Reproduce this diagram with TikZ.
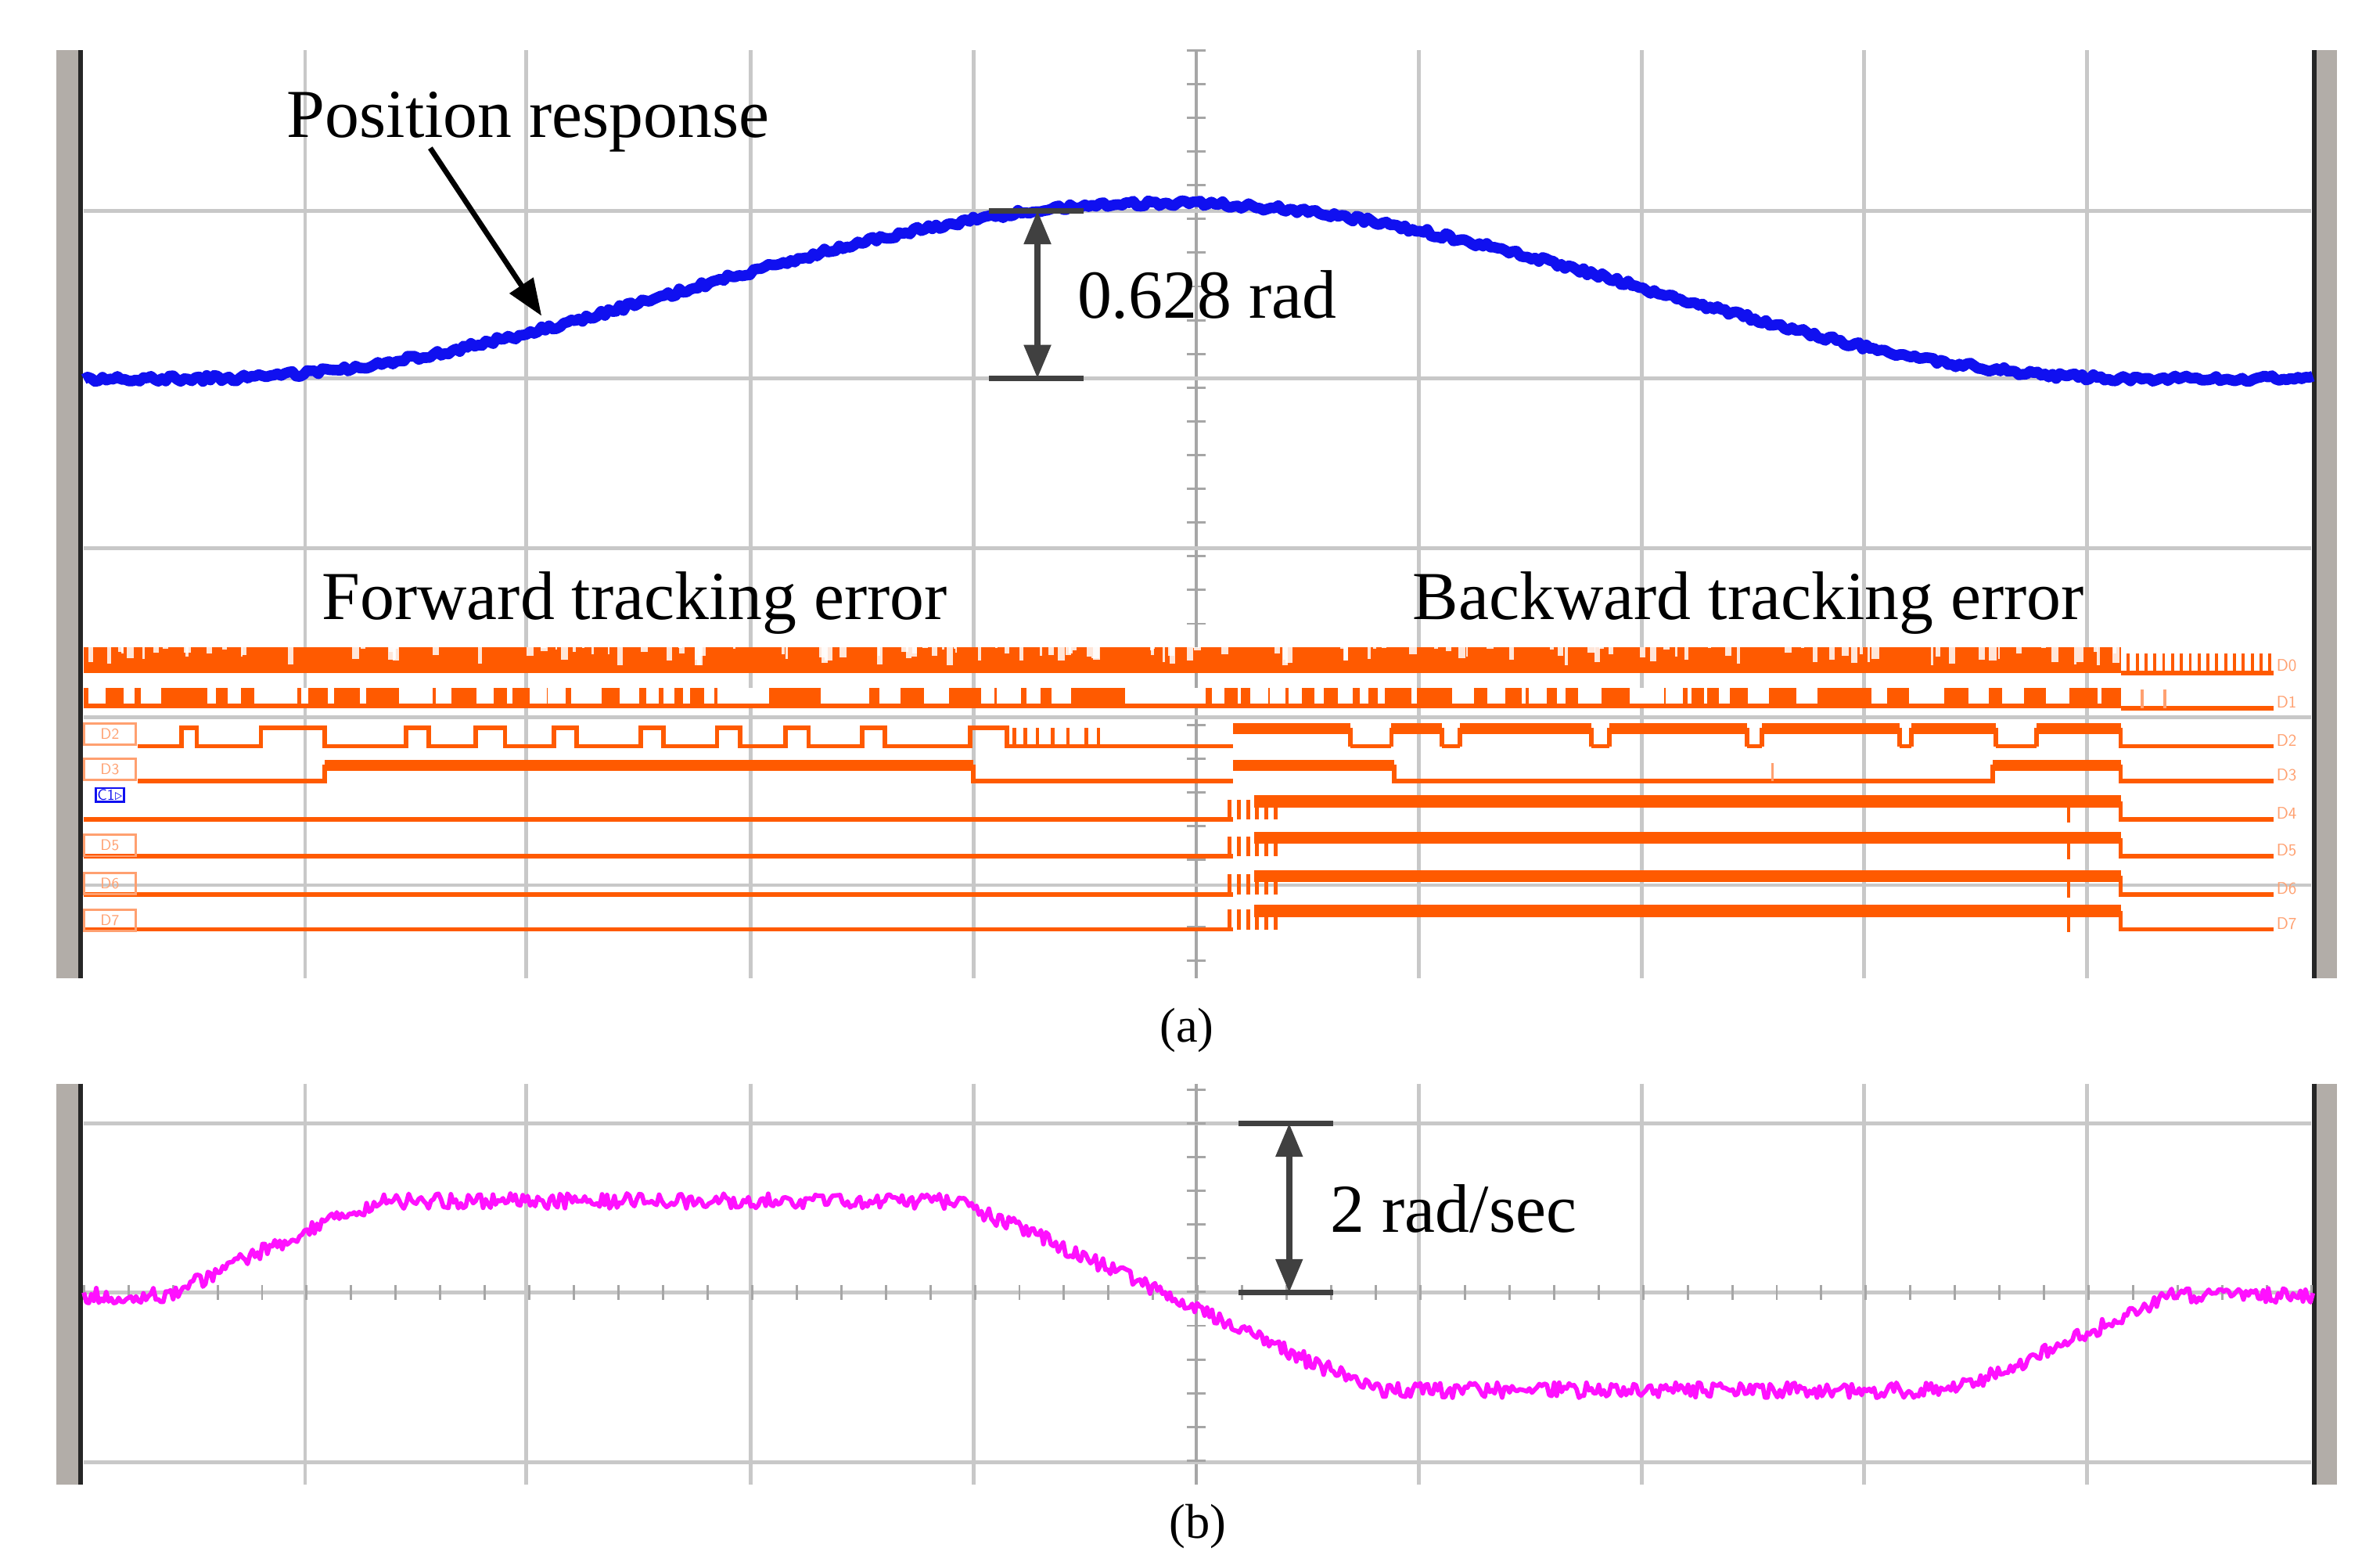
\documentclass[tikz,border=0pt]{standalone}
\usepackage{fontspec}
\setmainfont{Liberation Serif}
\usetikzlibrary{arrows.meta}
\definecolor{grd}{HTML}{C8C8C8}
\definecolor{bar}{HTML}{B2ADA8}
\definecolor{org}{HTML}{FF5A00}
\definecolor{lorg}{HTML}{FFA070}
\definecolor{blu}{HTML}{1010F0}
\definecolor{mag}{HTML}{FF10FF}
\definecolor{dim}{HTML}{404040}
\tikzset{
  gridline/.style={grd,line width=2.5pt},
  sidebar/.style={fill=bar,draw=none},
  edge/.style={black!85,line width=3pt},
  lbl/.style={font=\fontsize{45}{52}\selectfont,inner sep=0pt},
  dimarrow/.style={dim,line width=4pt,{Triangle[length=22pt,width=17pt]}-{Triangle[length=22pt,width=17pt]}},
  dimbar/.style={dim,line width=3.5pt},
  sig/.style={org,line width=3pt},
  chlbl/.style={lorg,font=\sffamily\fontsize{11}{12}\selectfont,inner sep=1pt},
  lbox/.style={draw=lorg,line width=1.5pt,minimum width=34pt,minimum height=14pt,inner sep=0pt,font=\sffamily\fontsize{10}{10}\selectfont,text=lorg}
}
\begin{document}
\begin{tikzpicture}[x=1pt,y=-1pt]
\useasboundingbox (0,0) rectangle (1560,1026);
\fill[white] (0,0) rectangle (1560,1026);
\pgfmathsetseed{7}
% ---------- panel frames ----------
\foreach \ya/\yb in {33/641,710/973}{
  \fill[sidebar] (37,\ya) rectangle (52,\yb);
  \fill[sidebar] (1518,\ya) rectangle (1532,\yb);
  \draw[edge] (53,\ya) -- (53,\yb);
  \draw[edge] (1517,\ya) -- (1517,\yb);
  \foreach \gx in {200,345,492,638,930,1076,1222,1368}
    \draw[gridline] (\gx,\ya) -- (\gx,\yb);
  \draw[gray!70,line width=2pt] (784,\ya) -- (784,\yb);
}
\foreach \gy in {138,248,359,470,580}
  \draw[gridline] (55,\gy) -- (1515,\gy);
\foreach \gy in {736,847,958}
  \draw[gridline] (55,\gy) -- (1515,\gy);
\foreach \t in {0,...,27} \draw[gray!70,line width=1.5pt] (778,{33+\t*22.1}) -- (790,{33+\t*22.1});
\foreach \t in {0,...,11} \draw[gray!70,line width=1.5pt] (778,{714+\t*22.1}) -- (790,{714+\t*22.1});
\foreach \t in {0,...,50} \draw[gray!70,line width=1.5pt] ({55+\t*29.2},842) -- ({55+\t*29.2},852);
% ---------- blue position curve ----------
\draw[blu,line width=7pt,line join=round]
  plot[domain=55:1516,samples=600] (\x,{248-((\x<130||\x>1400)?0:57.5*(1-cos((\x-130)*0.283465)))+2*rand});
\node[lbl,anchor=west] (pr) at (188,80) {Position response};
\coordinate (prtip) at (355,207);
\draw[black,line width=3.5pt,-{Triangle[length=24pt,width=18pt]}] (282,97) -- (prtip);
% dimension a
\coordinate (a1) at (680,138); \coordinate (a2) at (680,248);
\draw[dimbar] (648,138) -- (710,138);
\draw[dimbar] (648,248) -- (710,248);
\draw[dimarrow] (a1) -- (a2);
\node[lbl,anchor=west] (rad) at (706,193) {0.628 rad};
\node[lbl] (fte) at (416,395) {Forward tracking error};
\node[lbl] (bte) at (1146,395) {Backward tracking error};
% ---------- digital channels ----------
% D0
\fill[org] (55,424) rectangle (1390,441);
\foreach \i in {1,...,140}{
  \pgfmathsetmacro\xx{55+rnd*1335}
  \pgfmathsetmacro\ww{1+rnd*4}
  \fill[white,opacity=0.85] (\xx,424) rectangle ({\xx+\ww},{424+rnd*12});
}
\draw[sig] (1390,441) -- (1490,441);
\foreach \i in {0,...,16}{
  \pgfmathsetmacro\xx{1395+\i*5.8}
  \draw[org,line width=2pt] (\xx,441) -- (\xx,428);
}
% D1
\fill[org] (55,451) rectangle (1390,464);
\foreach \i in {1,...,110}{
  \pgfmathsetmacro\xx{55+rnd*1335}
  \pgfmathsetmacro\ww{2+rnd*12}
  \fill[white] (\xx,451) rectangle ({\xx+\ww},461);
}
\fill[white] (170,451) rectangle (195,461);
\fill[white] (470,451) rectangle (485,461);
\fill[white] (745,451) rectangle (790,461);
\draw[sig] (1390,464) -- (1490,464);
\draw[lorg,line width=2pt] (1404,464) -- (1404,452) (1419,464) -- (1419,452);
% D2
\draw[sig] (90,489) -- (119,489) -- (119,477) -- (129,477) -- (129,489) -- (171,489) -- (171,477) -- (213,477) -- (213,489)
  -- (266,489) -- (266,477) -- (281,477) -- (281,489)
  -- (312,489) -- (312,477) -- (331,477) -- (331,489)
  -- (363,489) -- (363,477) -- (378,477) -- (378,489)
  -- (420,489) -- (420,477) -- (435,477) -- (435,489)
  -- (470,489) -- (470,477) -- (485,477) -- (485,489)
  -- (515,489) -- (515,477) -- (530,477) -- (530,489)
  -- (565,489) -- (565,477) -- (580,477) -- (580,489)
  -- (636,489) -- (636,477) -- (660,477) -- (660,489) -- (808,489);
\foreach \xx in {665,672,680,690,700,712,720}\draw[org,line width=2.5pt] (\xx,489) -- (\xx,477);
\fill[org] (808,474) rectangle (1390,481);
\foreach \a/\b in {885/912,945/957,1043/1055,1145/1155,1245/1253,1308/1335}
  {\fill[white] (\a,474) rectangle (\b,481); \draw[sig] (\a,489) -- (\b,489) (\a,489)--(\a,477) (\b,489)--(\b,477);}
\draw[sig] (1390,477) -- (1390,489) -- (1490,489);
% D3
\draw[sig] (90,512) -- (213,512) -- (213,501);
\fill[org] (213,498) rectangle (638,505);
\draw[sig] (638,501) -- (638,512) -- (808,512);
\fill[org] (808,498) rectangle (914,505);
\draw[sig] (914,501) -- (914,512) -- (1306,512) -- (1306,501);
\fill[org] (1306,498) rectangle (1390,505);
\draw[sig] (1390,501) -- (1390,512) -- (1490,512);
\draw[lorg,line width=1.5pt] (1162,512) -- (1162,500);
% D4-D7
\foreach \yb in {537,561,586,609}{
  \draw[sig] (55,\yb) -- (808,\yb);
  \foreach \xx in {806,812,818,824,830,836}\draw[org,line width=2.5pt] (\xx,\yb) -- (\xx,{\yb-13});
  \fill[org] (822,{\yb-16}) rectangle (1390,{\yb-8});
  \draw[sig] (1390,{\yb-12}) -- (1390,\yb) -- (1490,\yb);
  \draw[org,line width=2pt] (1356,{\yb-12}) -- (1356,{\yb+2});
}
% channel labels right
\foreach \n/\yy in {0/436,1/460,2/485,3/508,4/533,5/557,6/582,7/605}
  \node[chlbl,anchor=west] (rl\n) at (1491,\yy) {D\n};
% left label boxes
\foreach \n/\yy in {2/481,3/504,5/554,6/579,7/603}
  \node[lbox] (ll\n) at (72,\yy) {D\n};
\node[draw=blu,line width=1.5pt,inner sep=1pt,font=\sffamily\fontsize{10}{10}\selectfont,text=blu,fill=white] (c1) at (72,521) {C1$\triangleright$};
% ---------- magenta velocity ----------
\draw[mag,line width=3pt,line join=round]
  plot[domain=55:1516,samples=900] (\x,{849-((\x<110||\x>1420)?0:62*min(1,max(-1,1.6*sin((\x-110)*0.274809))))+5*rand});
\coordinate (b1) at (845,736); \coordinate (b2) at (845,847);
\draw[dimbar] (812,736) -- (874,736);
\draw[dimbar] (812,847) -- (874,847);
\draw[dimarrow] (b1) -- (b2);
\node[lbl,anchor=west] (rs) at (872,792) {2 rad/sec};
\node[font=\fontsize{32}{36}\selectfont] (la) at (778,675) {(a)};
\node[font=\fontsize{32}{36}\selectfont] (lb) at (785,1000) {(b)};
\end{tikzpicture}
\end{document}
